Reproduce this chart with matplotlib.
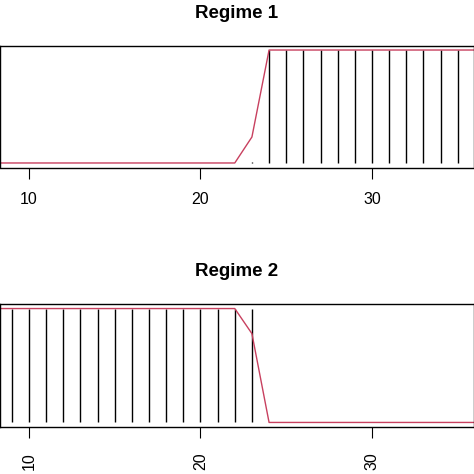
import matplotlib
matplotlib.use("Agg")
import matplotlib.pyplot as plt

plt.rcParams['font.family'] = ['Liberation Sans', 'DejaVu Sans']

t = list(range(1, 41))
r1_black = [0]*22 + [0.01] + [1]*17
r1_red = [0]*22 + [0.23] + [1]*17
r2_black = [1]*23 + [0]*17
r2_red = [1]*22 + [0.78] + [0]*17
titles = ["Regime 1", "Regime 2"]

fig = plt.figure(figsize=(4.74, 4.74), dpi=100)
H = 474.0
boxes = [(45.5, 167.5), (304, 427)]
data = [(r1_black, r1_red), (r2_black, r2_red)]
for i, ((top, bot), (blk, red)) in enumerate(zip(boxes, data)):
    ax = fig.add_axes([0, 1 - bot / H, 1, (bot - top) / H])
    ax.vlines(t, 0, blk, color='black', lw=1.0)
    ax.plot(t, red, color='#C8405F', lw=1.0)
    ax.set_xlim(8.31, 35.95)
    ax.set_ylim(-0.04, 1.04)
    ax.set_yticks([])
    ax.set_xticks([10, 20, 30])
    ax.tick_params(axis='x', length=8, width=0.8, pad=10, labelsize=11.5,
                   labelrotation=(90 if i == 1 else 0))
    for s in ax.spines.values():
        s.set_linewidth(1.0)
    ax.set_title(titles[i], fontweight='bold', fontsize=13.5, pad=20)

fig.savefig("out.png", dpi=100)
